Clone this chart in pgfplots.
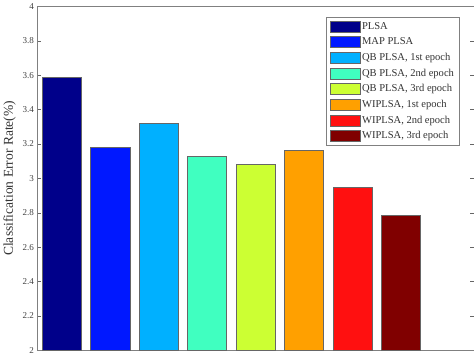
\documentclass[border=0pt]{standalone}
\usepackage{pgfplots}
\pgfplotsset{compat=1.18}
\usepackage{fontspec}
\setmainfont{Liberation Serif}
\definecolor{c1}{HTML}{00008A}
\definecolor{c2}{HTML}{0018FF}
\definecolor{c3}{HTML}{00B0FF}
\definecolor{c4}{HTML}{40FFC0}
\definecolor{c5}{HTML}{CCFF33}
\definecolor{c6}{HTML}{FFA000}
\definecolor{c7}{HTML}{FF1010}
\definecolor{c8}{HTML}{800000}
\begin{document}
\begin{tikzpicture}
\begin{axis}[
  scale only axis,
  width=435pt, height=343pt,
  xmin=0.5, xmax=9.5, ymin=2, ymax=4,
  xtick=\empty,
  ytick={2,2.2,2.4,2.6,2.8,3,3.2,3.4,3.6,3.8,4},
  yticklabel style={/pgf/number format/assume math mode=true,/pgf/number format/fixed,/pgf/number format/precision=1, font=\fontsize{9}{10}\selectfont, text=black!75},
  tick align=inside,
  tick style={gray!80!black},
  major tick length=4pt,
  axis line style={gray},
  ylabel={Classification Error Rate(\%)},
  ylabel style={font=\fontsize{13.5}{15}\selectfont, text=black!80},
  ybar, bar width=39pt, bar shift=0pt,
  every axis plot/.append style={draw=black!60, line width=0.5pt},
  legend style={at={(0.966,0.97)}, anchor=north east, font=\fontsize{10.5}{11}\selectfont, draw=gray, row sep=2.5pt, inner sep=3pt, text=black!80,
    nodes={text height=7.5pt, text depth=2pt, inner sep=1.8pt}},
  legend cell align=left,
  legend image code/.code={\draw[#1] (0pt,-5.5pt) rectangle (30pt,5.5pt);},
]
\addplot[fill=c1] coordinates {(1,3.59)};
\addplot[fill=c2] coordinates {(2,3.18)};
\addplot[fill=c3] coordinates {(3,3.32)};
\addplot[fill=c4] coordinates {(4,3.127)};
\addplot[fill=c5] coordinates {(5,3.08)};
\addplot[fill=c6] coordinates {(6,3.163)};
\addplot[fill=c7] coordinates {(7,2.95)};
\addplot[fill=c8] coordinates {(8,2.785)};
\legend{PLSA, MAP PLSA, {QB PLSA, 1st epoch}, {QB PLSA, 2nd epoch}, {QB PLSA, 3rd epoch}, {WIPLSA, 1st epoch}, {WIPLSA, 2nd epoch}, {WIPLSA, 3rd epoch}}
\end{axis}
\end{tikzpicture}
\end{document}
